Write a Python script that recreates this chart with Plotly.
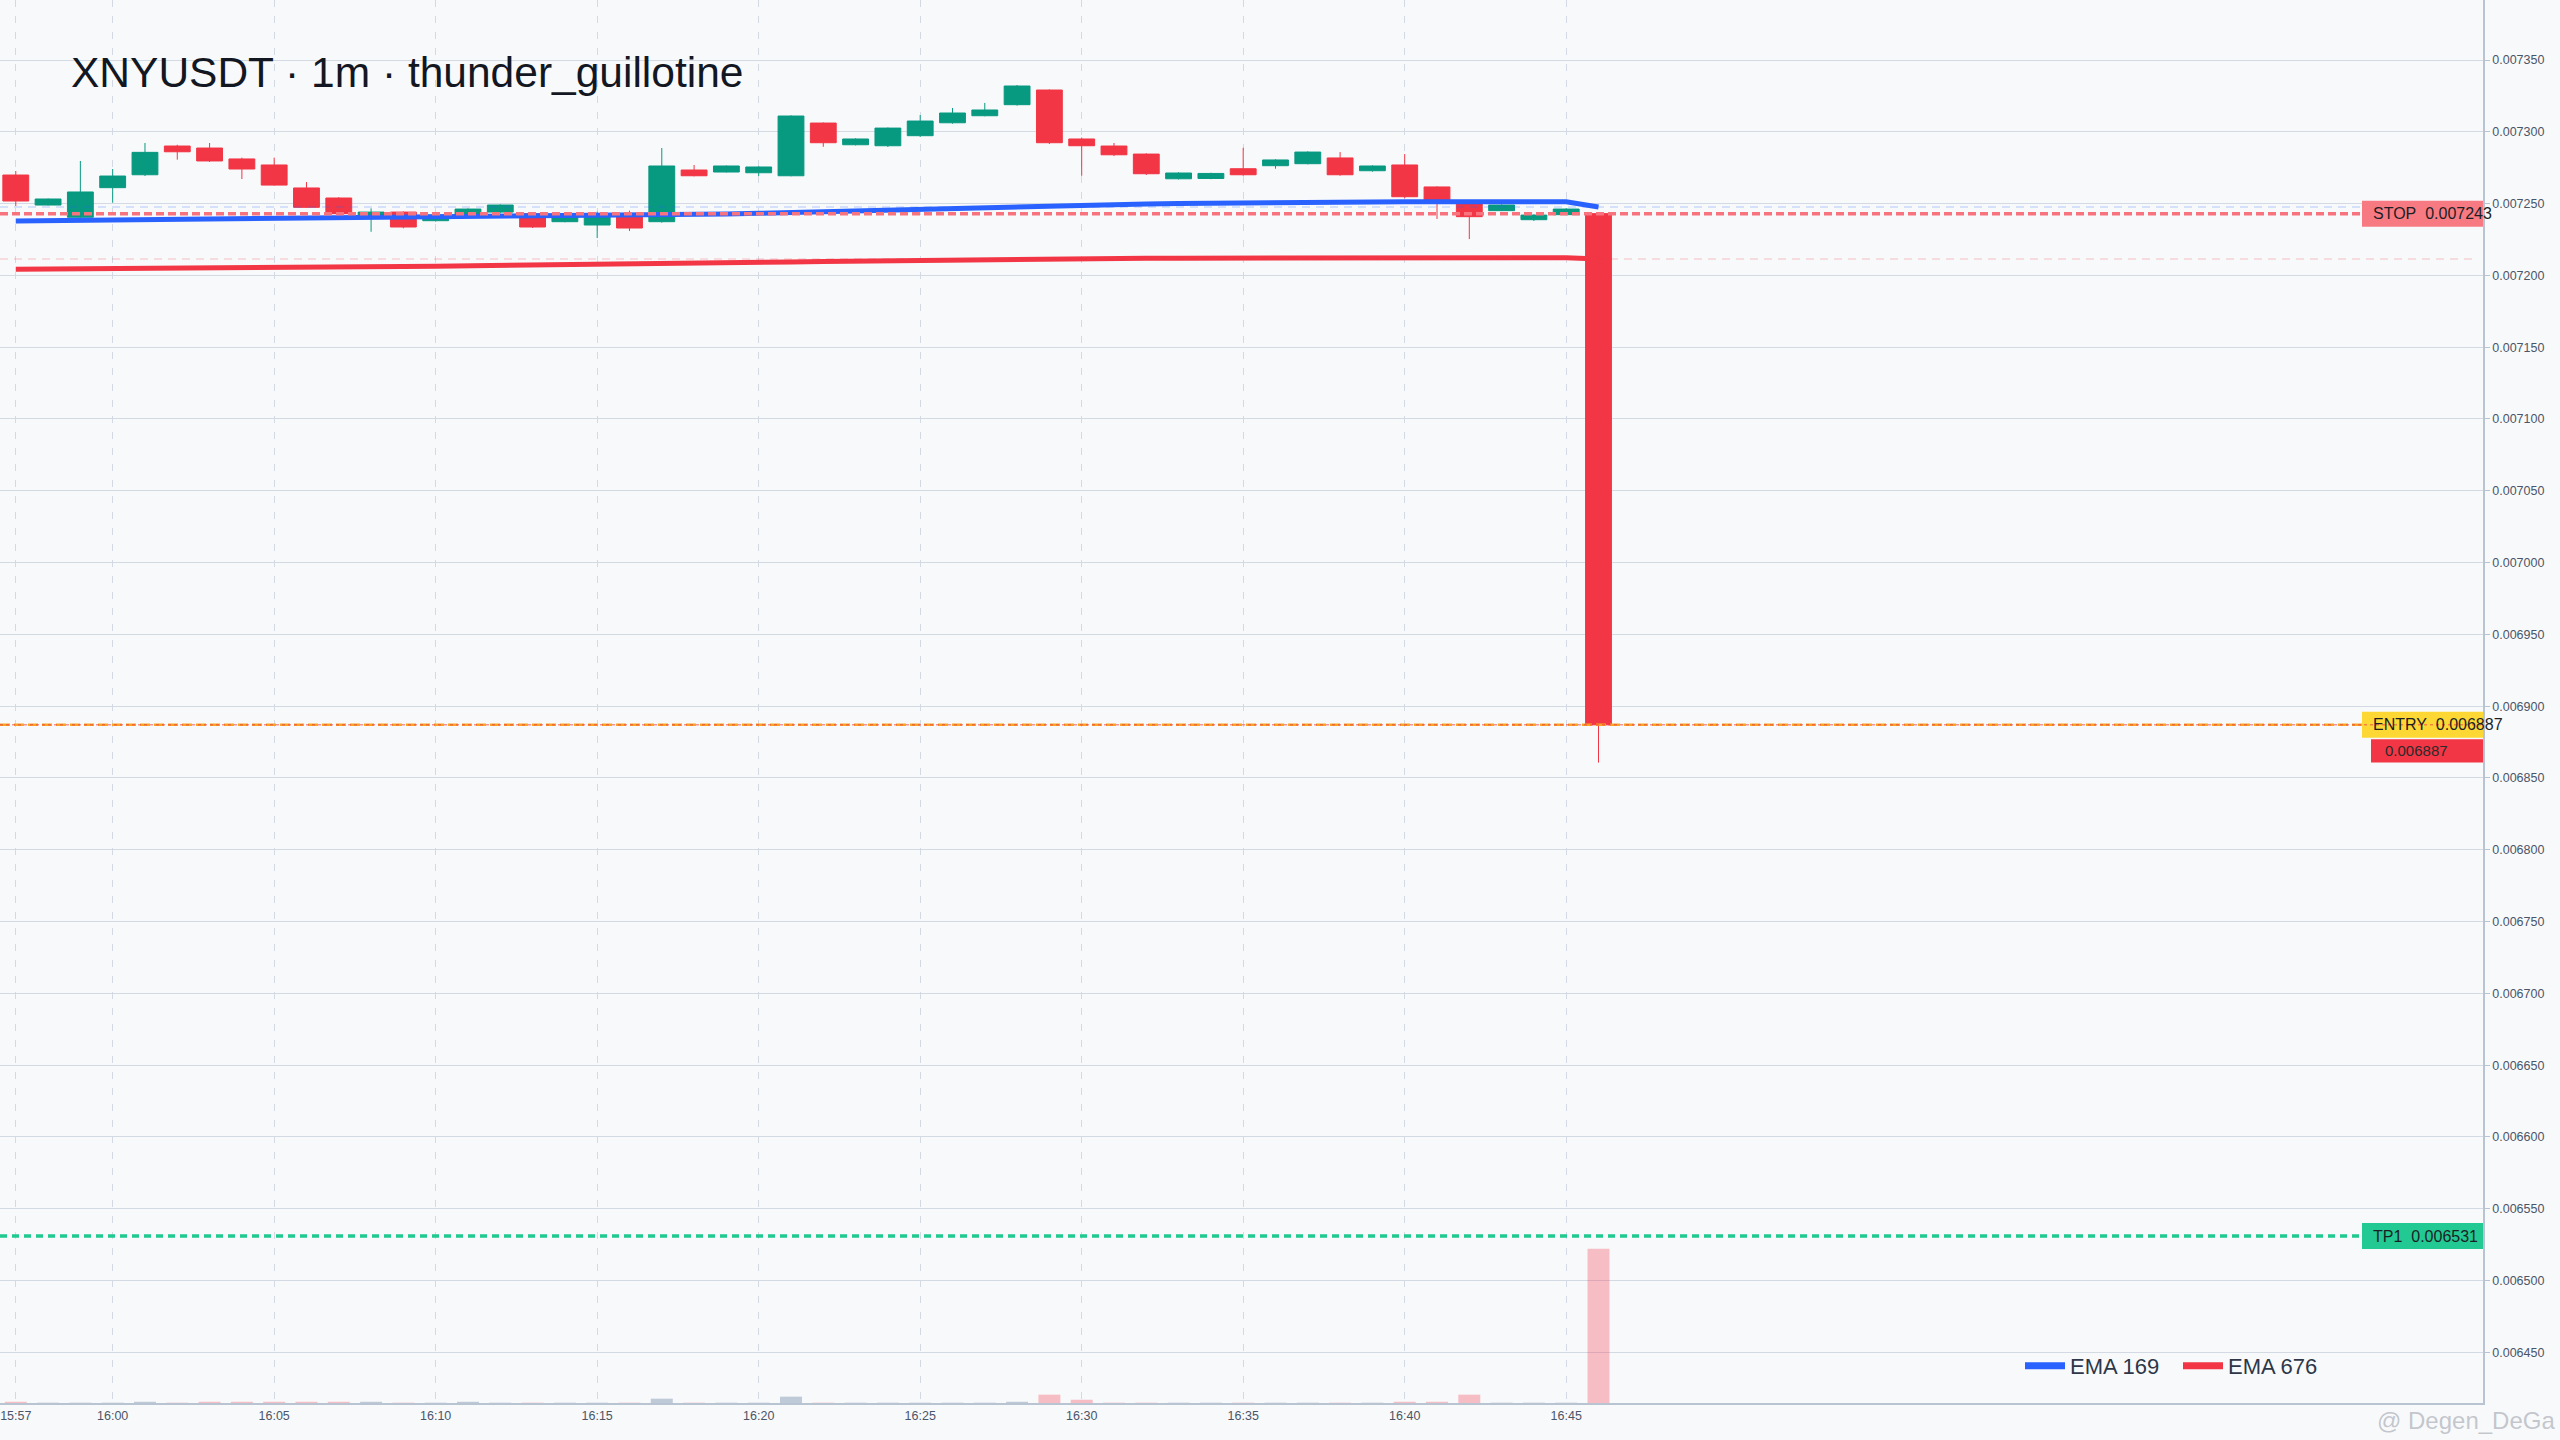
import plotly.graph_objects as go

# 1m candles, XNYUSDT
times = ["15:57", "15:58", "15:59", "16:00", "16:01", "16:02", "16:03", "16:04", "16:05", "16:06",
         "16:07", "16:08", "16:09", "16:10", "16:11", "16:12", "16:13", "16:14", "16:15", "16:16",
         "16:17", "16:18", "16:19", "16:20", "16:21", "16:22", "16:23", "16:24", "16:25", "16:26",
         "16:27", "16:28", "16:29", "16:30", "16:31", "16:32", "16:33", "16:34", "16:35", "16:36",
         "16:37", "16:38", "16:39", "16:40", "16:41", "16:42", "16:43", "16:44", "16:45", "16:46"]

opens = [0.0072699, 0.0072490, 0.0072405, 0.0072611, 0.0072701, 0.0072901, 0.0072887, 0.0072811, 0.0072769, 0.0072609,
         0.0072539, 0.0072421, 0.0072441, 0.0072381, 0.0072414, 0.0072441, 0.0072430, 0.0072374, 0.0072351, 0.0072425,
         0.0072374, 0.0072734, 0.0072720, 0.0072715, 0.0072694, 0.0073061, 0.0072910, 0.0072903, 0.0072973, 0.0073063,
         0.0073112, 0.0073189, 0.0073291, 0.0072950, 0.0072901, 0.0072845, 0.0072673, 0.0072675, 0.0072743, 0.0072764,
         0.0072778, 0.0072818, 0.0072729, 0.0072769, 0.0072616, 0.0072497, 0.0072451, 0.0072388, 0.0072423, 0.0072430]
highs = [0.0072727, 0.0072535, 0.0072797, 0.0072741, 0.0072922, 0.0072910, 0.0072922, 0.0072820, 0.0072820, 0.0072650,
         0.0072545, 0.0072467, 0.0072445, 0.0072430, 0.0072467, 0.0072495, 0.0072435, 0.0072425, 0.0072444, 0.0072451,
         0.0072887, 0.0072769, 0.0072765, 0.0072760, 0.0073115, 0.0073065, 0.0072955, 0.0073030, 0.0073117, 0.0073166,
         0.0073201, 0.0073326, 0.0073295, 0.0072960, 0.0072922, 0.0072850, 0.0072718, 0.0072715, 0.0072889, 0.0072809,
         0.0072864, 0.0072859, 0.0072767, 0.0072845, 0.0072620, 0.0072502, 0.0072495, 0.0072425, 0.0072467, 0.0072430]
lows = [0.0072483, 0.0072487, 0.0072391, 0.0072506, 0.0072692, 0.0072806, 0.0072790, 0.0072671, 0.0072625, 0.0072469,
        0.0072425, 0.0072304, 0.0072328, 0.0072375, 0.0072410, 0.0072432, 0.0072330, 0.0072370, 0.0072260, 0.0072309,
        0.0072367, 0.0072690, 0.0072717, 0.0072692, 0.0072690, 0.0072896, 0.0072905, 0.0072894, 0.0072964, 0.0073056,
        0.0073108, 0.0073182, 0.0072915, 0.0072694, 0.0072831, 0.0072699, 0.0072668, 0.0072670, 0.0072694, 0.0072743,
        0.0072773, 0.0072694, 0.0072722, 0.0072537, 0.0072393, 0.0072253, 0.0072448, 0.0072379, 0.0072420, 0.0068607]
closes = [0.0072518, 0.0072532, 0.0072581, 0.0072692, 0.0072857, 0.0072861, 0.0072797, 0.0072741, 0.0072629, 0.0072474,
          0.0072430, 0.0072441, 0.0072337, 0.0072420, 0.0072462, 0.0072490, 0.0072337, 0.0072420, 0.0072420, 0.0072330,
          0.0072762, 0.0072694, 0.0072762, 0.0072755, 0.0073110, 0.0072924, 0.0072950, 0.0073026, 0.0073075, 0.0073131,
          0.0073152, 0.0073319, 0.0072924, 0.0072903, 0.0072840, 0.0072708, 0.0072713, 0.0072710, 0.0072701, 0.0072804,
          0.0072859, 0.0072701, 0.0072762, 0.0072548, 0.0072502, 0.0072409, 0.0072490, 0.0072420, 0.0072462, 0.0068870]
volumes = [8, 2, 2, 2, 8, 2, 8, 8, 8, 8,
           8, 8, 2, 2, 8, 2, 2, 2, 2, 2,
           28, 2, 2, 2, 41, 2, 2, 2, 2, 2,
           2, 8, 54, 21, 2, 2, 2, 2, 2, 2,
           2, 2, 2, 8, 8, 54, 2, 2, 2, 1000]

ema169 = [0.0072379, 0.0072381, 0.0072383, 0.0072386, 0.0072389, 0.0072392, 0.0072395, 0.0072398, 0.0072401, 0.0072403,
          0.0072404, 0.0072405, 0.0072406, 0.0072407, 0.0072408, 0.0072409, 0.0072410, 0.0072411, 0.0072413, 0.0072415,
          0.0072418, 0.0072423, 0.0072428, 0.0072433, 0.0072439, 0.0072445, 0.0072451, 0.0072457, 0.0072463, 0.0072469,
          0.0072475, 0.0072481, 0.0072486, 0.0072491, 0.0072495, 0.0072498, 0.0072501, 0.0072504, 0.0072506, 0.0072508,
          0.0072510, 0.0072511, 0.0072512, 0.0072513, 0.0072513, 0.0072513, 0.0072513, 0.0072513, 0.0072513, 0.0072477]
ema676 = [0.0072042, 0.0072043, 0.0072044, 0.0072046, 0.0072048, 0.0072050, 0.0072052, 0.0072054, 0.0072056, 0.0072057,
          0.0072059, 0.0072060, 0.0072062, 0.0072064, 0.0072066, 0.0072068, 0.0072070, 0.0072073, 0.0072076, 0.0072079,
          0.0072082, 0.0072085, 0.0072088, 0.0072091, 0.0072094, 0.0072097, 0.0072100, 0.0072103, 0.0072106, 0.0072109,
          0.0072111, 0.0072113, 0.0072115, 0.0072117, 0.0072118, 0.0072119, 0.0072120, 0.0072121, 0.0072121, 0.0072122,
          0.0072122, 0.0072123, 0.0072123, 0.0072123, 0.0072123, 0.0072123, 0.0072123, 0.0072123, 0.0072123, 0.0072114]

stop_price = 0.007243
entry_price = 0.006887
tp1_price = 0.006531

tick_times = ["15:57", "16:00", "16:05", "16:10", "16:15", "16:20", "16:25", "16:30", "16:35", "16:40", "16:45"]

DAY = "2025-01-01 "
x = [DAY + t for t in times]

UP = "#089981"
DOWN = "#f23645"
BLUE = "#2962ff"
GRID = "#d3dae4"
AXIS = "#b8c4d2"
BG = "#f8f9fb"

W, H = 2560, 1440
ML, MR, MT, MB = 0, 77, 0, 37
plot_w = W - ML - MR
plot_h = H - MT - MB
y_lo, y_hi = 0.0064147, 0.0073918
ppx = (y_hi - y_lo) / plot_h  # price per pixel

vol_colors = ["rgba(242,54,69,0.3)" if c < o else "rgba(120,144,172,0.45)" for o, c in zip(opens, closes)]

fig = go.Figure()
fig.add_trace(go.Bar(x=x, y=volumes, marker_color=vol_colors, marker_line_width=0,
                     width=40800, yaxis="y2", showlegend=False, hoverinfo="skip"))
fig.add_trace(go.Candlestick(x=x, open=opens, high=highs, low=lows, close=closes,
                             increasing=dict(line=dict(color=UP, width=1), fillcolor=UP),
                             decreasing=dict(line=dict(color=DOWN, width=1), fillcolor=DOWN),
                             showlegend=False))
fig.add_trace(go.Scatter(x=x, y=ema169, mode="lines", showlegend=False, line=dict(color=BLUE, width=5)))
fig.add_trace(go.Scatter(x=x, y=ema676, mode="lines", showlegend=False, line=dict(color=DOWN, width=5)))
# legend keys (thicker swatches, like the original)
fig.add_trace(go.Scatter(x=[None], y=[None], mode="lines", name="EMA 169", line=dict(color=BLUE, width=7)))
fig.add_trace(go.Scatter(x=[None], y=[None], mode="lines", name="EMA 676", line=dict(color=DOWN, width=7)))

shapes = []
# faint last-value lines of the EMAs
shapes.append(dict(type="line", xref="paper", x0=0, x1=1, yref="y", y0=ema169[-1], y1=ema169[-1],
                   line=dict(color="rgba(41,98,255,0.22)", width=1.5, dash="8px,6px")))
shapes.append(dict(type="line", xref="paper", x0=0, x1=0.997, yref="y", y0=ema676[-1], y1=ema676[-1],
                   line=dict(color="rgba(242,54,69,0.2)", width=1.5, dash="8px,6px")))
# trade levels
shapes.append(dict(type="line", xref="paper", x0=0, x1=1, yref="y", y0=stop_price, y1=stop_price,
                   line=dict(color="#f7737e", width=3.5, dash="8px,4px")))
shapes.append(dict(type="line", xref="paper", x0=0, x1=1, yref="y", y0=entry_price, y1=entry_price,
                   line=dict(color="#f5a623", width=2.5, dash="10px,4px")))
shapes.append(dict(type="line", xref="paper", x0=0, x1=1, yref="y", y0=tp1_price, y1=tp1_price,
                   line=dict(color="#20c98f", width=3.5, dash="7px,5px")))

box_x0 = 2362 / plot_w
half = 13 * ppx
for price, col in [(stop_price, "#f77a83"), (entry_price, "#fdd835"), (tp1_price, "#22c993")]:
    shapes.append(dict(type="rect", xref="paper", x0=box_x0, x1=1, yref="y",
                       y0=price - half, y1=price + half, fillcolor=col, line=dict(width=0)))
# last price box under the entry label
last_c = entry_price - 26 * ppx
shapes.append(dict(type="rect", xref="paper", x0=2371 / plot_w, x1=1, yref="y",
                   y0=last_c - 11.7 * ppx, y1=last_c + 11.7 * ppx, fillcolor=DOWN, line=dict(width=0)))
shapes.append(dict(type="line", xref="paper", x0=0, x1=1, yref="y", y0=closes[-1], y1=closes[-1],
                   line=dict(color="rgba(242,54,69,0.8)", width=1, dash="dot")))

NB = "\u00a0"
annotations = [
    dict(text="XNYUSDT · 1m · thunder_guillotine", xref="paper", yref="paper", x=69 / plot_w,
         y=(plot_h - 73) / plot_h, xanchor="left", yanchor="middle", showarrow=False,
         font=dict(size=42.5, color="#131722")),
    dict(text="STOP" + NB + NB + f"{stop_price:.6f}", xref="paper", yref="y", x=2371 / plot_w, y=stop_price,
         xanchor="left", yanchor="middle", showarrow=False, font=dict(size=16, color="#1b1f24")),
    dict(text="ENTRY" + NB + NB + f"{entry_price:.6f}", xref="paper", yref="y", x=2371 / plot_w, y=entry_price,
         xanchor="left", yanchor="middle", showarrow=False, font=dict(size=16, color="#1b1f24")),
    dict(text=f"{closes[-1]:.6f}", xref="paper", yref="y", x=2383 / plot_w, y=last_c,
         xanchor="left", yanchor="middle", showarrow=False, font=dict(size=15, color="#2a2a2a")),
    dict(text="TP1" + NB + NB + f"{tp1_price:.6f}", xref="paper", yref="y", x=2371 / plot_w, y=tp1_price,
         xanchor="left", yanchor="middle", showarrow=False, font=dict(size=16, color="#1b1f24")),
    dict(text="@ Degen_DeGa", xref="paper", yref="paper", x=2375 / plot_w, y=-(1420 - plot_h) / plot_h,
         xanchor="left", yanchor="middle", showarrow=False, font=dict(size=24, color="rgba(150,155,165,0.55)")),
]

fig.update_layout(
    width=W, height=H,
    margin=dict(l=ML, r=MR, t=MT, b=MB),
    paper_bgcolor=BG, plot_bgcolor=BG,
    font=dict(family="Liberation Sans, Arial, sans-serif", color="#4a5568"),
    xaxis=dict(type="date", range=[DAY + "15:56:30.7", DAY + "17:13:23"],
               tickvals=[DAY + t for t in tick_times], ticktext=tick_times,
               tickfont=dict(size=12.5, color="#4a5568"),
               showgrid=True, gridcolor=GRID, gridwidth=1, griddash="7px,9px",
               showline=True, linecolor=AXIS, linewidth=1.5, ticks="",
               rangeslider=dict(visible=False), zeroline=False),
    yaxis=dict(side="right", range=[y_lo, y_hi], dtick=0.00005, tick0=0.0064, tickformat=".6f",
               tickfont=dict(size=12.5, color="#4a5568"),
               showgrid=True, gridcolor=GRID, gridwidth=1,
               showline=True, linecolor=AXIS, linewidth=1.5,
               ticks="outside", ticklen=5, tickcolor=AXIS, zeroline=False),
    yaxis2=dict(overlaying="y", range=[0, max(volumes) / 0.11], visible=False),
    legend=dict(orientation="h", x=2336 / plot_w, xanchor="right", y=(plot_h - 1366) / plot_h,
                yanchor="middle", bgcolor="rgba(0,0,0,0)", entrywidth=103, itemwidth=40,
                font=dict(size=22, color="#2d3748")),
    boxgap=0.2, boxgroupgap=0,
    shapes=shapes,
    annotations=annotations,
    hovermode=False,
)

fig.write_html("out.html", config={"displayModeBar": False},
               post_script="document.body.style.margin='0';document.body.style.overflow='hidden';")
